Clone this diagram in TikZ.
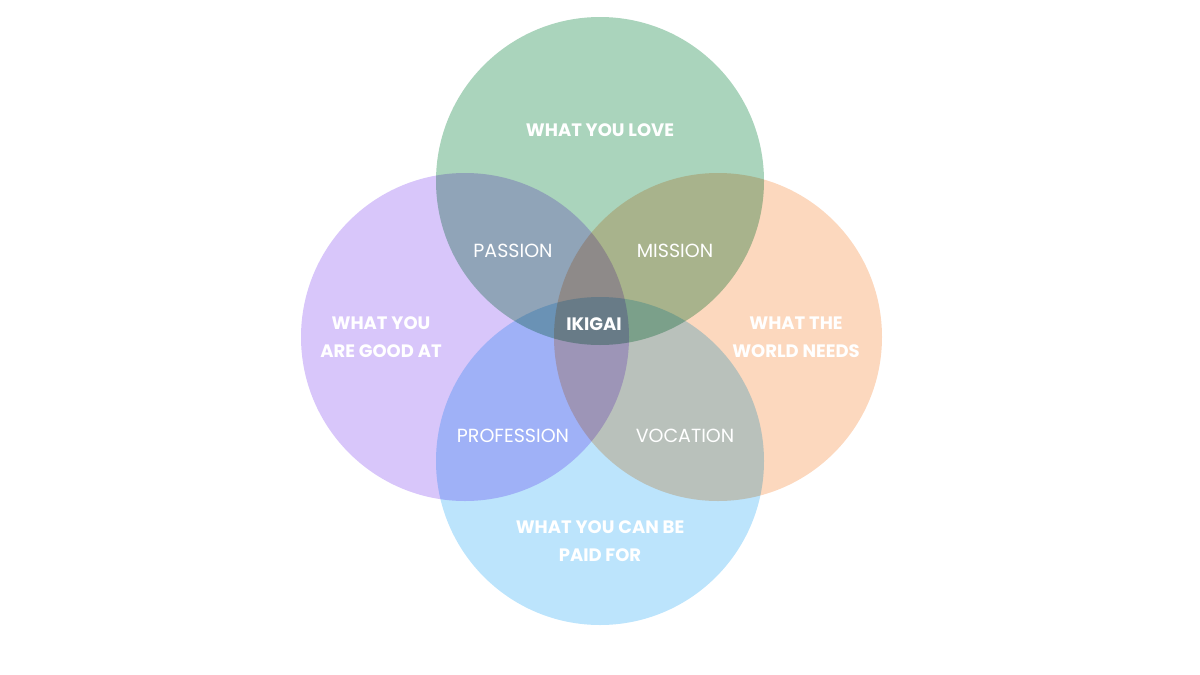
\documentclass[tikz,border=0pt]{standalone}
\usepackage{fontspec}
\setmainfont{Poppins}
\definecolor{lovegreen}{RGB}{170,212,188}
\definecolor{goodpurple}{RGB}{216,198,250}
\definecolor{worldorange}{RGB}{252,216,190}
\definecolor{paidblue}{RGB}{188,228,252}
\tikzset{
  ring/.style={circle, minimum size=328pt, inner sep=0pt},
  big/.style={text=white, font=\fontsize{18}{28}\selectfont\bfseries, align=center},
  small/.style={text=white, font=\fontsize{19}{24}\selectfont},
}
\begin{document}
\begin{tikzpicture}[x=1pt,y=-1pt]
\useasboundingbox (0,0) rectangle (1200,675);

\begin{scope}[blend mode=multiply]
\node[ring, fill=lovegreen] (love) at (600,181) {};
\node[ring, fill=goodpurple] (good) at (465,337) {};
\node[ring, fill=worldorange] (world) at (718,337) {};
\node[ring, fill=paidblue] (paid) at (600,461) {};
\end{scope}

\node[big] (tlove) at (600,130) {WHAT YOU LOVE};
\node[big] (tgood) at (381,337) {WHAT YOU\\ARE GOOD AT};
\node[big] (tworld) at (796,337) {WHAT THE\\WORLD NEEDS};
\node[big] (tpaid) at (600,541) {WHAT YOU CAN BE\\PAID FOR};
\node[big] (ikigai) at (594,324) {IKIGAI};

\node[small] (passion) at (513,251) {PASSION};
\node[small] (mission) at (675,251) {MISSION};
\node[small] (profession) at (513,436) {PROFESSION};
\node[small] (vocation) at (685,436) {VOCATION};

\end{tikzpicture}
\end{document}
